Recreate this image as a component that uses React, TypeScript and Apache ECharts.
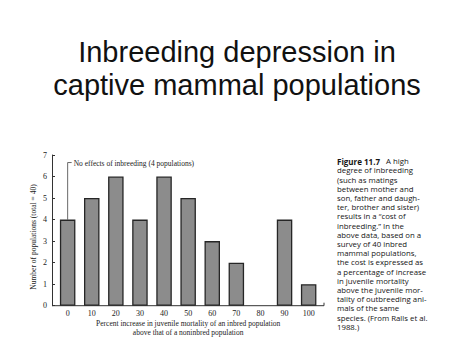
import React, { useEffect, useRef } from "react";
import * as echarts from "echarts";

const categories = ["0", "10", "20", "30", "40", "50", "60", "70", "80", "90", "100"];
const populations = [4, 5, 6, 4, 6, 5, 3, 2, 0, 4, 1];
const yTicks = [0, 1, 2, 3, 4, 5, 6, 7];
const titleText = "Inbreeding depression in\ncaptive mammal populations";
const annotationText = "No effects of inbreeding (4 populations)";
const annotationTop = 6.65;
const yAxisName = "Number of populations (total = 40)";
const xAxisName = "Percent increase in juvenile mortality of an inbred population\nabove that of a noninbred population";
const captionLines = [
  "{b|Figure 11.7}   A high",
  "degree of inbreeding",
  "(such as matings",
  "between mother and",
  "son, father and daugh-",
  "ter, brother and sister)",
  "results in a \u201ccost of",
  "inbreeding.\u201d In the",
  "above data, based on a",
  "survey of 40 inbred",
  "mammal populations,",
  "the cost is expressed as",
  "a percentage of increase",
  "in juvenile mortality",
  "above the juvenile mor-",
  "tality of outbreeding ani-",
  "mals of the same",
  "species. (From Ralls et al.",
  "1988.)",
];

const SERIF = "'Liberation Serif', 'DejaVu Serif', serif";
const SANS = "'Liberation Sans', Arial, sans-serif";
const CAPTION = "'Open Sans', 'Noto Sans', sans-serif";

export default function App() {
  const ref = useRef<HTMLDivElement>(null);
  useEffect(() => {
    document.body.style.margin = "0";
    const el = ref.current!;
    const chart = echarts.init(el, undefined, { renderer: "svg" });
    const gridLeft = 55.6;
    const gridTop = 155;
    const gridWidth = 265.1;
    const gridHeight = 150.7;
    const axisY = gridTop + gridHeight;
    chart.setOption({
      animation: false,
      backgroundColor: "#ffffff",
      title: {
        text: titleText,
        left: "center",
        top: 30,
        textStyle: {
          fontFamily: SANS,
          fontSize: 29,
          fontWeight: "normal",
          color: "#111",
          lineHeight: 33,
        },
      },
      grid: {
        left: gridLeft,
        top: gridTop,
        width: gridWidth,
        height: gridHeight,
        outerBoundsMode: "none",
      },
      xAxis: {
        type: "category",
        data: categories,
        axisLine: { show: false },
        axisTick: { show: false },
        axisLabel: {
          fontFamily: SERIF,
          fontSize: 8,
          color: "#222",
          margin: 4,
        },
        name: xAxisName,
        nameLocation: "middle",
        nameGap: 14,
        nameTextStyle: {
          fontFamily: SERIF,
          fontSize: 7.5,
          color: "#222",
          lineHeight: 8.5,
          align: "center",
        },
      },
      yAxis: {
        type: "value",
        min: 0,
        max: 7,
        interval: 1,
        offset: 3.6,
        splitLine: { show: false },
        axisLine: { show: true, lineStyle: { color: "#333", width: 1 } },
        axisTick: { show: true, inside: true, length: 3, lineStyle: { color: "#333" } },
        axisLabel: {
          fontFamily: SERIF,
          fontSize: 8,
          color: "#222",
          margin: 5,
          formatter: (v: number) => (yTicks.includes(v) ? String(v) : ""),
        },
      },
      series: [
        {
          type: "bar",
          data: populations.map((v) =>
            v === 0 ? { value: v, itemStyle: { borderWidth: 0, color: "transparent" } } : v
          ),
          barWidth: 15.5,
          itemStyle: {
            color: "#8c8c8c",
            borderColor: "#262626",
            borderWidth: 1.3,
          },
        },
      ],
    });

    const p0 = chart.convertToPixel({ seriesIndex: 0 }, [0, populations[0]]) as number[];
    const pTop = chart.convertToPixel({ seriesIndex: 0 }, [0, annotationTop]) as number[];
    const axisLeft = gridLeft - 3.6;
    const axisRight = 324;

    chart.setOption({
      graphic: [
        {
          type: "line",
          shape: { x1: axisLeft, y1: axisY, x2: axisRight, y2: axisY },
          style: { stroke: "#333", lineWidth: 1 },
          silent: true,
        },
        {
          type: "line",
          shape: { x1: axisRight, y1: axisY, x2: axisRight, y2: axisY - 3 },
          style: { stroke: "#333", lineWidth: 1 },
          silent: true,
        },
        {
          type: "polyline",
          shape: {
            points: [
              [p0[0], p0[1]],
              [p0[0], pTop[1]],
              [p0[0] + 4, pTop[1]],
            ],
          },
          style: { stroke: "#444", lineWidth: 0.8, fill: "none" },
          silent: true,
        },
        {
          type: "text",
          x: p0[0] + 6,
          y: pTop[1] + 0.5,
          style: {
            text: annotationText,
            fontFamily: SERIF,
            fontSize: 7.5,
            fill: "#222",
            verticalAlign: "middle",
            align: "left",
          },
          silent: true,
        },
        {
          type: "text",
          x: 33,
          y: 237,
          rotation: Math.PI / 2,
          style: {
            text: yAxisName,
            fontFamily: SERIF,
            fontSize: 7.5,
            fill: "#222",
            align: "center",
            verticalAlign: "middle",
          },
          silent: true,
        },
        {
          type: "text",
          x: 337,
          y: 156.5,
          style: {
            text: captionLines.join("\n"),
            fontFamily: CAPTION,
            fontSize: 7.8,
            lineHeight: 9.2,
            fill: "#151515",
            align: "left",
            verticalAlign: "top",
            rich: {
              b: {
                fontFamily: CAPTION,
                fontSize: 8,
                fontWeight: "bold",
                lineHeight: 9.2,
                fill: "#151515",
              },
            },
          },
          silent: true,
        },
      ],
    });
    return () => chart.dispose();
  }, []);
  return <div ref={ref} style={{ width: 474, height: 355 }} />;
}
